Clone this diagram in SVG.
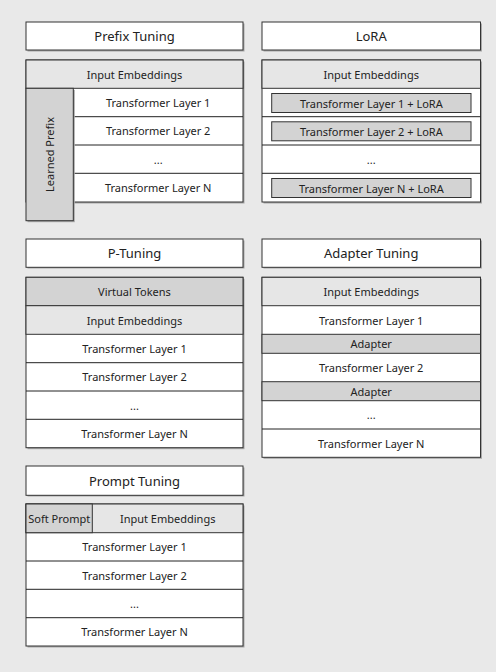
<svg xmlns="http://www.w3.org/2000/svg" width="496" height="672" viewBox="0 0 496 672">
<defs>
<style>
.t{font-family:"Noto Sans","Open Sans","DejaVu Sans",sans-serif;fill:#222;text-anchor:middle;dominant-baseline:central}
.h{font-size:13px}
.s{font-size:11px}
.box{stroke:#333;stroke-width:1}
.w{fill:#fff}
.e{fill:#e6e6e6}
.g{fill:#d3d3d3}
.sh{fill:#a8a8a8}
.ln{stroke:#222;stroke-width:1}
</style>
</defs>
<rect width="496" height="672" fill="#e9e9e9"/>

<!-- Prefix Tuning -->
<g id="prefix-title">
<rect class="sh" x="27.5" y="23.5" width="217" height="28"/>
<rect class="box w" x="26" y="22" width="217" height="28"/>
<text class="t h" x="134.5" y="36">Prefix Tuning</text>
</g>
<g id="prefix-stack">
<rect class="sh" x="27.5" y="61.5" width="217" height="142"/>
<rect class="box w" x="26" y="60" width="217" height="142"/>
<rect class="box e" x="26" y="60" width="217" height="28.3"/>
<text class="t s" x="134.5" y="74.2">Input Embeddings</text>
<line class="ln" x1="73.3" y1="116.7" x2="243" y2="116.7"/>
<line class="ln" x1="73.3" y1="145" x2="243" y2="145"/>
<line class="ln" x1="73.3" y1="173.3" x2="243" y2="173.3"/>
<text class="t s" x="158.2" y="102.5">Transformer Layer 1</text>
<text class="t s" x="158.2" y="130.8">Transformer Layer 2</text>
<text class="t s" x="158.2" y="159.2">...</text>
<text class="t s" x="158.2" y="187.5">Transformer Layer N</text>
</g>
<g id="learned-prefix">
<rect class="sh" x="27.5" y="89.8" width="47.3" height="132.4"/>
<rect class="box g" x="26" y="88.3" width="47.3" height="132.4"/>
<text class="t s" transform="translate(49.7,154.5) rotate(-90)" x="0" y="0">Learned Prefix</text>
</g>

<!-- LoRA -->
<g id="lora-title">
<rect class="sh" x="263.5" y="23.5" width="218.5" height="28"/>
<rect class="box w" x="262" y="22" width="218.5" height="28"/>
<text class="t h" x="371.2" y="36">LoRA</text>
</g>
<g id="lora-stack">
<rect class="sh" x="263.5" y="61.5" width="218.5" height="142"/>
<rect class="box w" x="262" y="60" width="218.5" height="142"/>
<rect class="box e" x="262" y="60" width="218.5" height="28.3"/>
<text class="t s" x="371.2" y="74.2">Input Embeddings</text>
<line class="ln" x1="262" y1="116.7" x2="480.5" y2="116.7"/>
<line class="ln" x1="262" y1="145" x2="480.5" y2="145"/>
<line class="ln" x1="262" y1="173.3" x2="480.5" y2="173.3"/>
<rect class="box g" x="271.7" y="93.5" width="199.3" height="19"/>
<rect class="box g" x="271.7" y="121.8" width="199.3" height="19"/>
<rect class="box g" x="271.7" y="178.5" width="199.3" height="19"/>
<text class="t s" x="371.3" y="103">Transformer Layer 1 + LoRA</text>
<text class="t s" x="371.3" y="131.3">Transformer Layer 2 + LoRA</text>
<text class="t s" x="371.3" y="159.2">...</text>
<text class="t s" x="371.3" y="188">Transformer Layer N + LoRA</text>
</g>

<!-- P-Tuning -->
<g id="ptuning-title">
<rect class="sh" x="27.5" y="240.5" width="217" height="28"/>
<rect class="box w" x="26" y="239" width="217" height="28.3"/>
<text class="t h" x="134.5" y="253.3">P-Tuning</text>
</g>
<g id="ptuning-stack">
<rect class="sh" x="27.5" y="278.8" width="217" height="170.4"/>
<rect class="box w" x="26" y="277.3" width="217" height="170.4"/>
<rect class="box g" x="26" y="277.3" width="217" height="28.4"/>
<text class="t s" x="134.5" y="291.5">Virtual Tokens</text>
<rect class="box e" x="26" y="305.7" width="217" height="28.6"/>
<text class="t s" x="134.5" y="320">Input Embeddings</text>
<line class="ln" x1="26" y1="362.7" x2="243" y2="362.7"/>
<line class="ln" x1="26" y1="391" x2="243" y2="391"/>
<line class="ln" x1="26" y1="419.3" x2="243" y2="419.3"/>
<text class="t s" x="134.5" y="348.5">Transformer Layer 1</text>
<text class="t s" x="134.5" y="376.8">Transformer Layer 2</text>
<text class="t s" x="134.5" y="405.2">...</text>
<text class="t s" x="134.5" y="433.5">Transformer Layer N</text>
</g>

<!-- Adapter Tuning -->
<g id="adapter-title">
<rect class="sh" x="263.5" y="240.5" width="218.5" height="28"/>
<rect class="box w" x="262" y="239" width="218.5" height="28.3"/>
<text class="t h" x="371.2" y="253.3">Adapter Tuning</text>
</g>
<g id="adapter-stack">
<rect class="sh" x="263.5" y="278.8" width="218.5" height="180"/>
<rect class="box w" x="262" y="277.3" width="218.5" height="180"/>
<rect class="box e" x="262" y="277.3" width="218.5" height="28.4"/>
<text class="t s" x="371.2" y="291.5">Input Embeddings</text>
<text class="t s" x="371.2" y="320">Transformer Layer 1</text>
<rect class="box g" x="262" y="334.3" width="218.5" height="19"/>
<text class="t s" x="371.2" y="343.8">Adapter</text>
<text class="t s" x="371.2" y="367.5">Transformer Layer 2</text>
<rect class="box g" x="262" y="381.7" width="218.5" height="19"/>
<text class="t s" x="371.2" y="391.2">Adapter</text>
<line class="ln" x1="262" y1="429" x2="480.5" y2="429"/>
<text class="t s" x="371.2" y="414.8">...</text>
<text class="t s" x="371.2" y="443.2">Transformer Layer N</text>
</g>

<!-- Prompt Tuning -->
<g id="prompt-title">
<rect class="sh" x="27.5" y="467.5" width="217" height="29"/>
<rect class="box w" x="26" y="466" width="217" height="29.3"/>
<text class="t h" x="134.5" y="480.7">Prompt Tuning</text>
</g>
<g id="prompt-stack">
<rect class="sh" x="27.5" y="505.5" width="217" height="142"/>
<rect class="box w" x="26" y="504" width="217" height="142"/>
<rect class="box e" x="26" y="504" width="217" height="28.7"/>
<text class="t s" x="167.7" y="518.4">Input Embeddings</text>
<line class="ln" x1="26" y1="561" x2="243" y2="561"/>
<line class="ln" x1="26" y1="589.3" x2="243" y2="589.3"/>
<line class="ln" x1="26" y1="617.7" x2="243" y2="617.7"/>
<text class="t s" x="134.5" y="546.8">Transformer Layer 1</text>
<text class="t s" x="134.5" y="575.2">Transformer Layer 2</text>
<text class="t s" x="134.5" y="603.5">...</text>
<text class="t s" x="134.5" y="631.8">Transformer Layer N</text>
</g>
<g id="soft-prompt">
<rect class="box g" x="26" y="504" width="66.3" height="28.7"/>
<text class="t s" x="59.2" y="518.4">Soft Prompt</text>
</g>
</svg>
